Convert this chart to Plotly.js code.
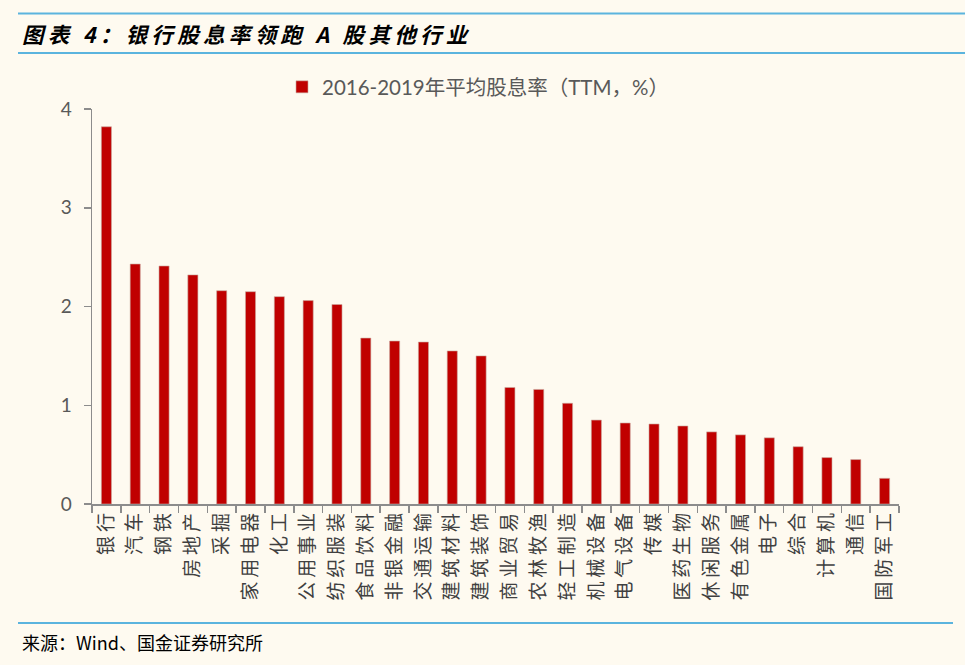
<!DOCTYPE html>
<html>
<head>
<meta charset="utf-8">
<script src="https://cdn.plot.ly/plotly-3.0.1.min.js"></script>
<style>
html,body{margin:0;padding:0;background:#FEFAF0;}
#chart{width:965px;height:665px;}
</style>
</head>
<body>
<div id="chart"></div>
<script>
const industries = ["银行","汽车","钢铁","房地产","采掘","家用电器","化工","公用事业","纺织服装","食品饮料","非银金融","交通运输","建筑材料","建筑装饰","商业贸易","农林牧渔","轻工制造","机械设备","电气设备","传媒","医药生物","休闲服务","有色金属","电子","综合","计算机","通信","国防军工"];
const dividendYield = [3.82,2.43,2.41,2.32,2.16,2.15,2.10,2.06,2.02,1.68,1.65,1.64,1.55,1.50,1.18,1.16,1.02,0.85,0.82,0.81,0.79,0.73,0.70,0.67,0.58,0.47,0.45,0.26];
const seriesName = "2016-2019年平均股息率（TTM，%）";
const yTicks = [0,1,2,3,4];
const titleText = "图表 4：银行股息率领跑 A 股其他行业";
const sourceText = "来源：Wind、国金证券研究所";

const L = 92, R = 899, T = 109, B = 504;
const W = 965, H = 665;
const pw = R - L, ph = B - T;
const px = x => (x - L) / pw;
const py = y => (B - y) / ph;
const spaced = s => s.split('').join('\u2009');

const font = "Lato, 'Noto Sans CJK SC', sans-serif";
const cjk = "'Noto Sans CJK SC', sans-serif";
const gray = "#595959";
const axisGray = "#8C8C8C";

const data = [{
  type: "bar",
  x: industries,
  y: dividendYield,
  name: seriesName,
  marker: {color: "#C00000", line: {color: "#C9A9A0", width: 0.6}},
  showlegend: true,
  hoverinfo: "x+y"
}];

const layout = {
  width: W, height: H,
  paper_bgcolor: "#FEFAF0",
  plot_bgcolor: "#FEFAF0",
  margin: {l: L, r: W - R, t: T, b: H - B},
  bargap: 0.65,
  showlegend: true,
  legend: {
    orientation: "h",
    x: px(282), xanchor: "left",
    y: py(87), yanchor: "middle",
    font: {family: font, size: 20.5, color: gray},
    bgcolor: "rgba(0,0,0,0)",
    itemwidth: 30
  },
  xaxis: {
    type: "category",
    tickvals: industries,
    ticktext: industries.map(spaced),
    tickangle: -90,
    tickfont: {family: cjk, size: 19, color: "#404040"},
    showline: true, linecolor: axisGray, linewidth: 1.5,
    ticks: "outside", tickson: "boundaries", ticklen: 7, tickcolor: axisGray, tickwidth: 1.5,
    showgrid: false, zeroline: false,
    fixedrange: true
  },
  yaxis: {
    range: [0, 4],
    tickvals: yTicks,
    ticktext: yTicks.map(String),
    tickfont: {family: font, size: 19, color: gray},
    showline: true, linecolor: axisGray, linewidth: 1.5,
    ticks: "outside", ticklen: 7, tickcolor: axisGray, tickwidth: 1.5,
    showgrid: false, zeroline: false,
    ticklabelstandoff: 8,
    fixedrange: true
  },
  shapes: [
    {type: "line", xref: "paper", yref: "paper", x0: px(18), x1: px(965), y0: py(13.5), y1: py(13.5), line: {color: "#5BB4DE", width: 2}},
    {type: "line", xref: "paper", yref: "paper", x0: px(18), x1: px(965), y0: py(53), y1: py(53), line: {color: "#5BB4DE", width: 2}},
    {type: "line", xref: "paper", yref: "paper", x0: px(18), x1: px(953), y0: py(623), y1: py(623), line: {color: "#5BB4DE", width: 2}}
  ],
  annotations: [
    {text: "<b><i>" + spaced(titleText) + "</i></b>", xref: "paper", yref: "paper",
     x: px(20), y: py(33), xanchor: "left", yanchor: "middle", showarrow: false,
     font: {family: cjk, size: 21.5, color: "#000000"}},
    {text: sourceText, xref: "paper", yref: "paper",
     x: px(20), y: py(642), xanchor: "left", yanchor: "middle", showarrow: false,
     font: {family: cjk, size: 18, color: "#000000"}}
  ]
};

Plotly.newPlot("chart", data, layout, {displayModeBar: false, staticPlot: true});
</script>
</body>
</html>
